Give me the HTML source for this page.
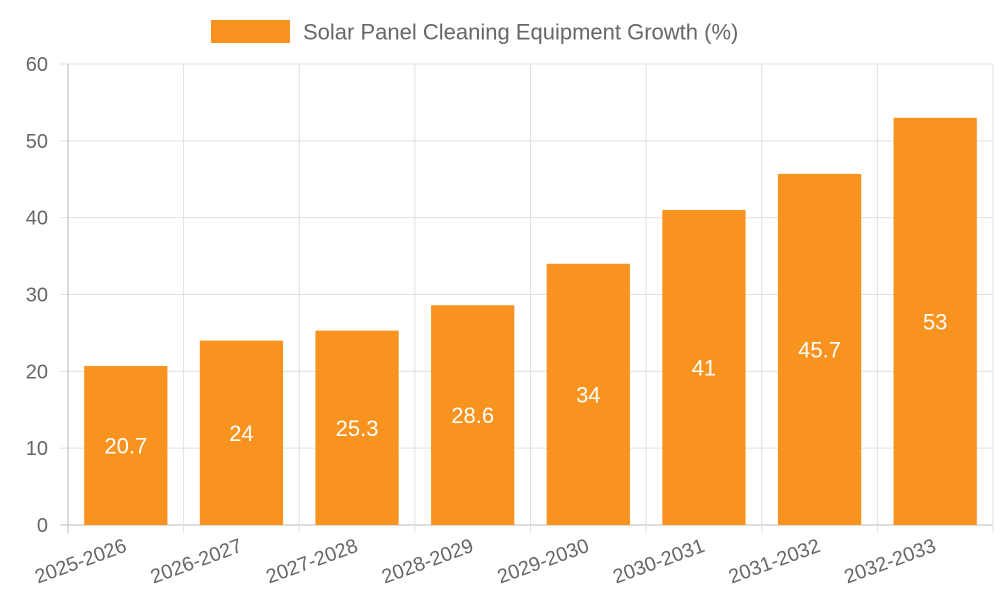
<!DOCTYPE html>
<html><head><meta charset="utf-8"><style>
body{margin:0;background:#fff}
svg text{font-family:"Liberation Sans",sans-serif}
</style></head><body>
<svg id="chart" width="1000" height="600" xmlns="http://www.w3.org/2000/svg">
<g id="grid"></g>
<g id="bars"></g>
<g id="axes"></g>
<g>
<rect x="211" y="20" width="79" height="23" fill="#f7931e"/>
<text x="303" y="39.5" font-size="22" fill="#666">Solar Panel Cleaning Equipment Growth (%)</text>
</g>
</svg>
<script>
const categories=["2025-2026","2026-2027","2027-2028","2028-2029","2029-2030","2030-2031","2031-2032","2032-2033"];
const values=[20.7,24,25.3,28.6,34,41,45.7,53];
const yTicks=[0,10,20,30,40,50,60];
const NS="http://www.w3.org/2000/svg";
const L=68,R=993,T=64,B=525,yMax=60;
const bw=(R-L)/categories.length;
const y=v=>B-(v/yMax)*(B-T);
const x=i=>L+bw*i;
function mk(tag,attrs,parent,txt){const e=document.createElementNS(NS,tag);for(const k in attrs)e.setAttribute(k,attrs[k]);if(txt!==undefined)e.textContent=txt;document.getElementById(parent).appendChild(e);return e;}
yTicks.forEach(t=>{
 const g=mk('line',{x1:L-8,x2:R,y1:y(t),y2:y(t),stroke:t===0?'#bbb':'#e0e0e0','stroke-width':1},'grid');
 
 
 const tx=mk('text',{x:L-20,y:y(t)+7,'text-anchor':'end','font-size':20,fill:'#666'},'axes',t);
 
 
});
for(let i=0;i<=categories.length;i++){
 const g=mk('line',{x1:x(i),x2:x(i),y1:T,y2:B+8,stroke:i===0?'#bbb':'#e0e0e0','stroke-width':1},'grid');
 
 
}
categories.forEach((c,i)=>{
 const cx=x(i)+bw/2,w=bw*0.72;
 const r=mk('rect',{x:cx-w/2,y:y(values[i]),width:w,height:B-y(values[i]),fill:'#f7931e'},'bars');
 
 
 const v=mk('text',{x:cx,y:(y(values[i])+B)/2+8,'text-anchor':'middle','font-size':22,fill:'#fff'},'bars',values[i]);
 
 
 const t=mk('text',{x:cx+2,y:B+26,'text-anchor':'end','font-size':20,fill:'#666',transform:`rotate(-20 ${cx+2} ${B+26})`},'axes',c);
 
 
});
</script>
</body></html>
